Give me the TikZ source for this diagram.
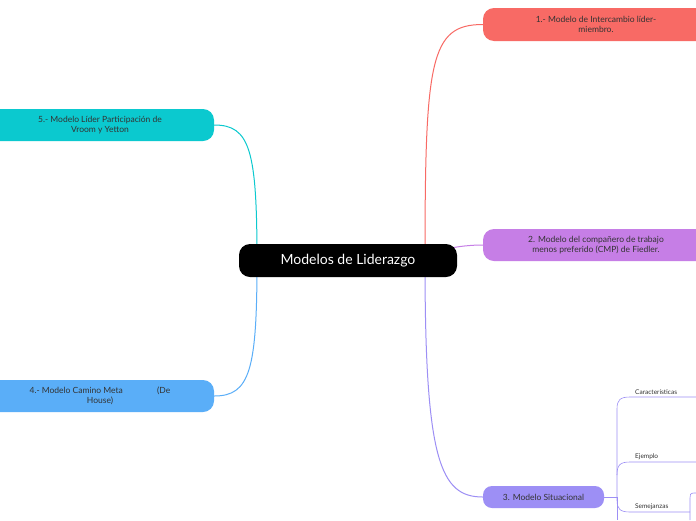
\documentclass[tikz,border=0pt]{standalone}
\usepackage{fontspec}
\setmainfont{Lato}
\usetikzlibrary{backgrounds}
\begin{document}
\begin{tikzpicture}[x=1pt,y=-1pt,
 box/.style={rounded corners=11pt,minimum height=32pt,align=center,font=\fontsize{8.5}{10}\selectfont,text=black!80},
 con/.style={line width=1pt},
 sub/.style={font=\fontsize{6.5}{7}\selectfont,text=black!80,anchor=south west,inner sep=1pt}]
\useasboundingbox (0,0) rectangle (696,520);
\definecolor{cr}{HTML}{F86A65}\definecolor{cp}{HTML}{C67EE6}\definecolor{cl}{HTML}{9D8FF5}
\definecolor{ct}{HTML}{0BC9CF}\definecolor{cb}{HTML}{5AAEF8}
\node[box,fill=black,text=white,minimum width=218pt,minimum height=33pt,font=\fontsize{14}{16}\selectfont] (c) at (348,260.5) {Modelos de Liderazgo};
\node[box,fill=cr,minimum width=226pt,minimum height=33pt] (n1) at (596,24.5) {1.- Modelo de Intercambio líder-\\miembro.};
\node[box,fill=cp,minimum width=226pt] (n2) at (596,245) {2. Modelo del compañero de trabajo\\menos preferido (CMP) de Fiedler.};
\node[box,fill=cl,minimum width=121pt,minimum height=22pt,rounded corners=9pt] (n3) at (543.5,497) {3. Modelo Situacional};
\node[box,fill=ct,minimum width=228pt] (n5) at (100,125) {5.- Modelo Líder Participación de\\Vroom y Yetton};
\node[box,fill=cb,minimum width=228pt] (n4) at (100,396) {4.- Modelo Camino Meta \hspace{30pt} (De\\House)};
\begin{scope}[on background layer]
\fill[white] (0,0) rectangle (696,520);
\coordinate (r) at (425,261); \coordinate (l) at (257,261);
\draw[con,cr] (r) .. controls (425,60) and (430,24.5) .. (n1.west);
\draw[con,cp] (r) .. controls (430,250) and (460,245) .. (n2.west);
\draw[con,cl] (r) .. controls (425,460) and (440,497) .. (n3.west);
\draw[con,ct] (l) .. controls (257,150) and (250,125) .. (n5.east);
\draw[con,cb] (l) .. controls (257,370) and (250,396) .. (n4.east);
\end{scope}
\coordinate (s) at (617,497);
\draw[cl,line width=0.6pt] (n3.east) -- (s);
\coordinate (e1) at (696,397); \coordinate (e2) at (696,462); \coordinate (e3) at (690,512);
\draw[cl,line width=0.6pt] (s) -- (617,409) .. controls (617,400) and (620,397) .. (630,397) -- (e1);
\draw[cl,line width=0.6pt] (617,475) .. controls (617,465) and (620,462) .. (630,462) -- (e2);
\draw[cl,line width=0.6pt] (617,497) -- (617,500) .. controls (617,509) and (620,512) .. (630,512) -- (e3);
\draw[cl,line width=0.6pt] (617,497) -- (617,520);
\draw[cl,line width=0.6pt] (696,493) -- (694,493) .. controls (690,493) and (690,495) .. (690,498) -- (690,520);
\node[sub] (t1) at (634,396) {Características};
\node[sub] (t2) at (634,461) {Ejemplo};
\node[sub] (t3) at (634,511) {Semejanzas};
\end{tikzpicture}
\end{document}
